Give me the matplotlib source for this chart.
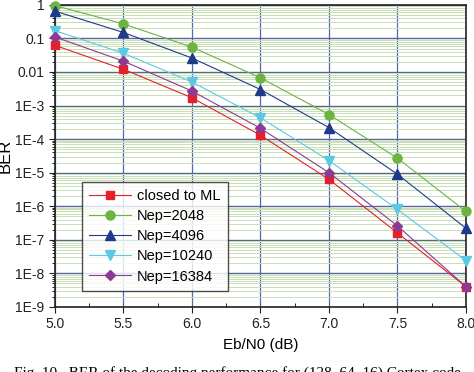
import matplotlib.pyplot as plt
from matplotlib.ticker import FixedLocator, LogLocator, NullFormatter

plt.rcParams['font.family'] = ['Liberation Sans', 'DejaVu Sans']

ebn0 = [5.0, 5.5, 6.0, 6.5, 7.0, 7.5, 8.0]
ber_ml = [0.062, 0.012, 0.0017, 1.3e-4, 6.3e-6, 1.6e-7, 4.0e-9]
ber_2048 = [0.95, 0.27, 0.055, 0.0067, 5.4e-4, 2.7e-5, 7.0e-7]
ber_4096 = [0.65, 0.15, 0.026, 0.003, 2.2e-4, 9.0e-6, 2.2e-7]
ber_10240 = [0.17, 0.036, 0.005, 4.3e-4, 2.3e-5, 8.0e-7, 2.4e-8]
ber_16384 = [0.11, 0.021, 0.0027, 2.1e-4, 1.0e-5, 2.6e-7, 4.0e-9]

labels = ["closed to ML", "Nep=2048", "Nep=4096", "Nep=10240", "Nep=16384"]
ytick_vals = [1, 0.1, 0.01, 1e-3, 1e-4, 1e-5, 1e-6, 1e-7, 1e-8, 1e-9]
ytick_labels = ["1", "0.1", "0.01", "1E-3", "1E-4", "1E-5", "1E-6", "1E-7", "1E-8", "1E-9"]
xtick_vals = [5.0, 5.5, 6.0, 6.5, 7.0, 7.5, 8.0]

fig = plt.figure(figsize=(4.74, 3.72), dpi=100)
ax = fig.add_axes([0.116, 0.175, 0.867, 0.812])

series = [ber_ml, ber_2048, ber_4096, ber_10240, ber_16384]
colors = ['#e5202a', '#6cb33f', '#1f3a8a', '#5cc8e2', '#8c3a94']
markers = ['s', 'o', '^', 'v', 'D']
sizes = [5.5, 6.5, 6.5, 6.5, 5.5]
for ys, lab, c, m, s in zip(series, labels, colors, markers, sizes):
    ax.plot(ebn0, ys, color=c, marker=m, markersize=s, linewidth=0.8,
            label=lab, clip_on=False, zorder=3)

ax.set_yscale('log')
ax.set_xlim(5.0, 8.0)
ax.set_ylim(1e-9, 1)
ax.set_yticks(ytick_vals)
ax.set_yticklabels(ytick_labels)
ax.yaxis.set_minor_locator(LogLocator(base=10, subs=range(2, 10), numticks=20))
ax.yaxis.set_minor_formatter(NullFormatter())
ax.set_xticks(xtick_vals)
ax.set_xticklabels([f"{v:.1f}" for v in xtick_vals])
ax.xaxis.set_minor_locator(FixedLocator([5.25, 5.75, 6.25, 6.75, 7.25, 7.75]))

ax.grid(True, which='minor', axis='y', color='#c8e0b4', linewidth=0.7)
ax.grid(True, which='major', axis='y', color='#56688f', linewidth=1.0)
ax.grid(True, which='major', axis='x', color='#5068ad', linewidth=0.9)
ax.set_axisbelow(True)

ax.tick_params(which='major', direction='out', length=4, labelsize=10, colors='#222222')
ax.tick_params(axis='x', which='minor', direction='in', length=3)
ax.tick_params(axis='y', which='minor', direction='out', length=2)
for sp in ax.spines.values():
    sp.set_linewidth(1.2)
    sp.set_color('#222222')

ax.set_xlabel("Eb/N0 (dB)", fontsize=11, labelpad=5)
ax.set_ylabel("BER", fontsize=12, labelpad=2)

leg = ax.legend(loc='lower left', bbox_to_anchor=(0.065, 0.053), fontsize=10.5,
                frameon=True, fancybox=False, edgecolor='#222222',
                handlelength=2.9, handletextpad=0.4, borderpad=0.5,
                labelspacing=0.42, borderaxespad=0)
leg.get_frame().set_linewidth(1.0)

fig.text(0.5, -0.022, "Fig. 10   BER of the decoding performance for (128, 64, 16) Cortex code",
         ha='center', va='bottom', fontsize=11, family='Liberation Serif')

fig.savefig('out.png', dpi=100)
